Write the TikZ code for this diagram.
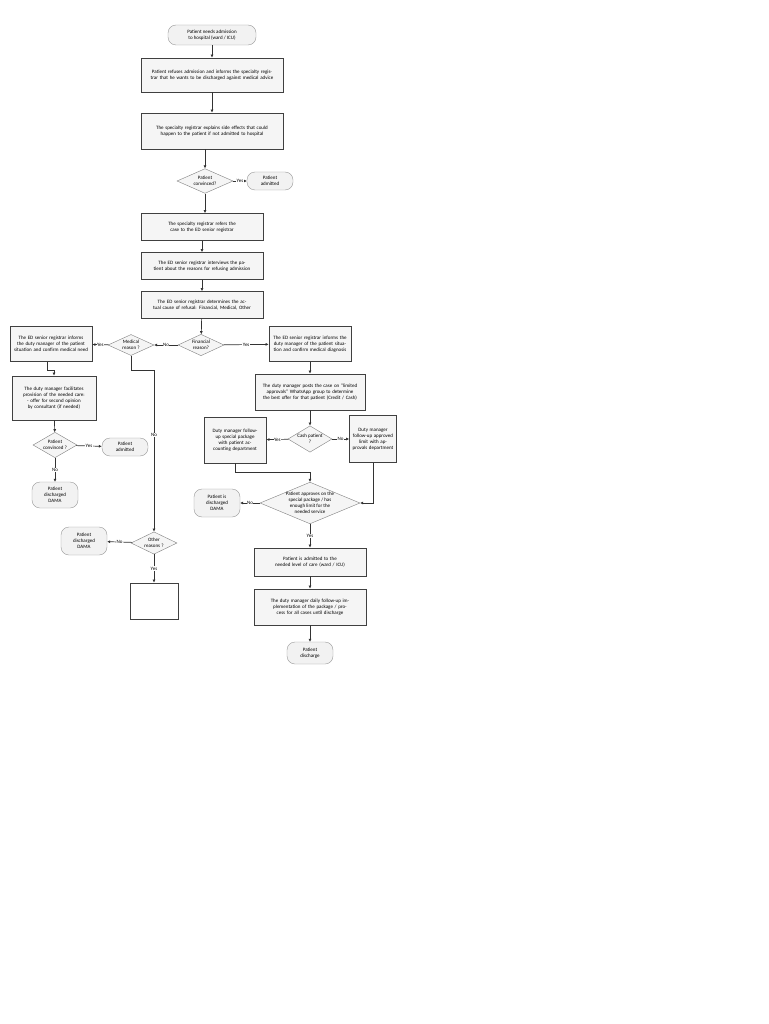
\documentclass[tikz,border=0pt]{standalone}
\usepackage{fontspec}
\setmainfont{Carlito}
\usetikzlibrary{shapes.geometric,arrows.meta}
\begin{document}
\begin{tikzpicture}[x=1pt,y=-1pt,
  every node/.style={font=\fontsize{5}{6}\selectfont,align=center,inner sep=1pt},
  box/.style={draw=black!75,line width=0.8pt,fill=black!4,minimum width=#1,text width=#1-6pt},
  term/.style={draw=black!40,rounded corners=8pt,fill=black!5,minimum width=#1,minimum height=18pt},
  dec/.style={diamond,draw=black!50,fill=black!4,aspect=1.5,inner sep=0pt,minimum width=#1},
  arr/.style={draw=black!80,line width=0.7pt,-{Latex[length=3pt,width=3pt]}},
  lbl/.style={fill=white,inner sep=0.5pt}]
\useasboundingbox (0,0) rectangle (768,1024);
\fill[white] (0,0) rectangle (768,1024);
\node[term=88pt,minimum height=20pt] (s) at (212,35) {Patient needs admission\\to hospital (ward / ICU)};
\node[box=142pt,minimum height=34pt] (b1) at (212,75) {Patient refuses admission and informs the specialty registrar that he wants to be discharged against medical advice};
\node[box=142pt,minimum height=36pt] (b2) at (212,131) {The specialty registrar explains side effects that could happen to the patient if not admitted to hospital};
\node[dec=56pt] (d1) at (205,181) {Patient\\convinced?};
\node[term=46pt] (t1) at (270,181) {Patient\\admitted};
\node[box=122pt,minimum height=27pt] (b3) at (202,227) {The specialty registrar refers the case to the ED senior registrar};
\node[box=122pt,minimum height=27pt] (b4) at (202,266) {The ED senior registrar interviews the patient about the reasons for refusing admission};
\node[box=122pt,minimum height=27pt] (b5) at (202,305) {The ED senior registrar determines the actual cause of refusal: Financial, Medical, Other};
\node[dec=46pt] (df) at (201,345) {Financial\\reason?};
\node[dec=46pt] (dm) at (131,345) {Medical\\reason ?};
\node[box=82pt,minimum height=35pt] (m1) at (51,344) {The ED senior registrar informs the duty manager of the patient situation and confirm medical need};
\node[box=84pt,minimum height=44pt] (m2) at (54,398) {The duty manager facilitates provision of the needed care:\\- offer for second opinion by consultant (if needed)};
\node[dec=44pt] (dc2) at (55,445) {Patient\\convinced ?};
\node[term=46pt] (t2) at (125,447) {Patient\\admitted};
\node[term=46pt,minimum height=26pt] (t3) at (55,495) {Patient\\discharged\\DAMA};
\node[dec=46pt] (dot) at (154,543) {Other\\reasons ?};
\node[term=46pt,minimum height=28pt] (t4) at (84,541) {Patient\\discharged\\DAMA};
\node[draw=black!75,line width=0.8pt,minimum width=48pt,minimum height=36pt] (ob) at (154,601) {};
\node[box=82pt,minimum height=35pt] (f1) at (310,344) {The ED senior registrar informs the duty manager of the patient situation and confirm medical diagnosis};
\node[box=110pt,minimum height=36pt] (f2) at (310,392) {The duty manager posts the case on ``limited approvals'' WhatsApp group to determine the best offer for that patient (Credit / Cash)};
\node[dec=44pt] (dc) at (310,439) {Cash patient\\?};
\node[box=62pt,minimum height=46pt] (c1) at (235,440) {Duty manager follow-up special package with patient accounting department};
\node[box=47pt,minimum height=47pt] (c2) at (373,439) {Duty manager follow-up approved limit with approvals department};
\node[dec=100pt,aspect=2.4] (dp) at (310,503) {Patient approves on the\\special package / has\\enough limit for the\\needed service};
\node[term=46pt,minimum height=28pt] (t5) at (217,503) {Patient is\\discharged\\DAMA};
\node[box=112pt,minimum height=28pt] (p1) at (310,562) {Patient is admitted to the needed level of care (ward / ICU)};
\node[box=112pt,minimum height=36pt] (p2) at (310,607) {The duty manager daily follow-up implementation of the package / process for all cases until discharge};
\node[term=46pt,minimum height=22pt] (t6) at (310,653) {Patient\\discharge};

\path[arr] (s) -- (b1);
\path[arr] (b1) -- (b2);
\path[arr] (b2.south -| d1) -- (d1);
\path[arr] (d1) -- node[lbl]{Yes} (t1);
\path[arr] (d1.south) -- (b3.north -| d1.south);
\path[arr] (b3) -- (b4);
\path[arr] (b4) -- (b5);
\path[arr] (b5) -- (df);
\path[arr] (df) -- node[lbl]{No} (dm);
\path[arr] (dm) -- node[lbl]{Yes} (m1);
\path[arr] (m1.south -| 47,0) -- (47,370) -- (54,370) -- (m2.north);
\path[arr] (m2) -- (dc2);
\path[arr] (dc2) -- node[lbl]{Yes} (t2);
\path[arr] (dc2) -- node[lbl]{No} (t3);
\path[arr] (dm.south) -- (131,370) -- (154,370) -- node[lbl,pos=0.4]{No} (dot.north);
\path[arr] (dot) -- node[lbl]{No} (t4);
\path[arr] (dot) -- node[lbl]{Yes} (ob);
\path[arr] (df) -- node[lbl]{Yes} (f1);
\path[arr] (f1) -- (f2);
\path[arr] (f2) -- (dc);
\path[arr] (dc) -- node[lbl]{Yes} (c1);
\path[arr] (dc) -- node[lbl]{No} (c2);
\path[arr] (c1.south) -- (235,472) -- (310,472) -- (dp.north);
\path[arr] (c2.south) -- (373,503) -- (dp.east);
\path[arr] (dp) -- node[lbl]{No} (t5);
\path[arr] (dp) -- node[lbl]{Yes} (p1);
\path[arr] (p1) -- (p2);
\path[arr] (p2) -- (t6);
\end{tikzpicture}
\end{document}
